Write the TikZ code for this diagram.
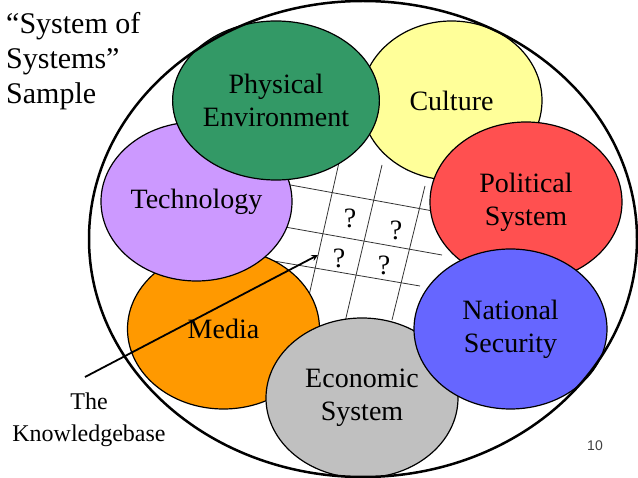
\documentclass[tikz,border=0pt]{standalone}
\usepackage{fontspec}
\setmainfont{Liberation Serif}
\newfontfamily\slidenum{Liberation Sans}
\usetikzlibrary{arrows,shapes.geometric}

\definecolor{envgreen}{RGB}{51,153,102}
\definecolor{culyellow}{RGB}{255,255,153}
\definecolor{techpurple}{RGB}{204,153,255}
\definecolor{polred}{RGB}{255,80,80}
\definecolor{medorange}{RGB}{255,153,0}
\definecolor{natblue}{RGB}{102,102,255}
\definecolor{ecogray}{RGB}{192,192,192}

\begin{document}
\begin{tikzpicture}[x=1pt,y=-1pt]

\tikzset{
    sys/.style={ellipse,draw=black,line width=1.2pt,fill=#1,inner sep=0pt,
        minimum width=192pt,minimum height=160pt,align=center,
        font=\fontsize{28}{33}\selectfont},
    qmark/.style={inner sep=0pt,font=\fontsize{28}{30}\selectfont},
    gridline/.style={draw=black!80,line width=0.8pt}}

\useasboundingbox (0,0) rectangle (638,478);

\draw[gridline] (285,184) -- (433,211);
\draw[gridline] (285,227) -- (442,255);
\draw[gridline] (262,259) -- (420,286);
\draw[gridline] (340,158) -- (308,300);
\draw[gridline] (382,165) -- (345,322);
\draw[gridline] (425,186) -- (392,320);

\node[qmark] (q1) at (350,218) {?};
\node[qmark] (q2) at (396,230) {?};
\node[qmark] (q3) at (339,258) {?};
\node[qmark] (q4) at (384,265) {?};

\node[sys=medorange] (media) at (223.5,329) {Media};
\node[sys=ecogray] (eco) at (362,398) {Economic\\System};
\node[sys=culyellow, minimum width=181pt, minimum height=159pt] (cul) at (451.5,100.5) {Culture};
\node[sys=techpurple, minimum width=191pt, minimum height=159pt] (tech) at (196.5,201.5) {Technology};
\node[sys=envgreen, minimum height=159pt] (env) at (276,100.5) {Physical\\Environment};
\node[sys=polred] (pol) at (526,202) {Political\\System};
\node[sys=natblue, minimum width=193pt] (nat) at (510.5,329) {National\\Security};

\draw[line width=2.5pt] (363,239) ellipse [x radius=274, y radius=238];

\node[anchor=north west, align=left, inner sep=0pt,
      font=\fontsize{30}{35}\selectfont] (title) at (6,12)
      {“System of\\Systems”\\Sample};

\node[align=center, inner sep=0pt, font=\fontsize{24}{32}\selectfont]
      (kb) at (89,420) {The\\Knowledgebase};

\node[inner sep=0pt, text=black!75, font=\slidenum\fontsize{14}{16}\selectfont]
      (num) at (595,446) {10};

\coordinate (kbtail) at (85,377);
\coordinate (kbhead) at (318,255);
\draw[-stealth, line width=1.8pt] (kbtail) -- (kbhead);

\end{tikzpicture}
\end{document}
